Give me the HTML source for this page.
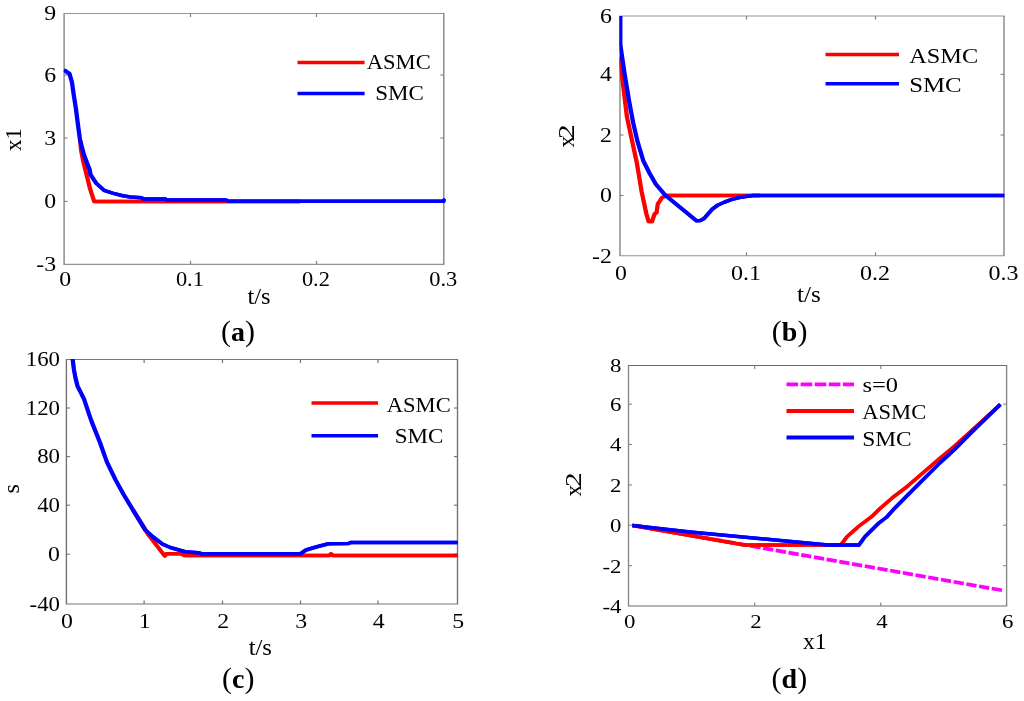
<!DOCTYPE html>
<html><head><meta charset="utf-8"><title>Figure</title>
<style>
html,body{margin:0;padding:0;background:#fff;}
svg{display:block;}
text{font-family:"Liberation Serif",serif;fill:#000;}
</style></head><body>
<svg width="1024" height="701" viewBox="0 0 1024 701">
<rect width="1024" height="701" fill="#fff"/>
<line x1="63.50" y1="13.50" x2="444.40" y2="13.50" stroke="#939393" stroke-width="1.1"/>
<line x1="63.50" y1="264.40" x2="444.40" y2="264.40" stroke="#939393" stroke-width="1.1"/>
<line x1="64.10" y1="13.50" x2="64.10" y2="264.40" stroke="#808080" stroke-width="1.35"/>
<line x1="443.80" y1="13.50" x2="443.80" y2="264.40" stroke="#808080" stroke-width="1.35"/>
<line x1="190.50" y1="264.40" x2="190.50" y2="260.90" stroke="#808080" stroke-width="1.2"/>
<line x1="190.50" y1="13.50" x2="190.50" y2="17.00" stroke="#808080" stroke-width="1.2"/>
<line x1="316.50" y1="264.40" x2="316.50" y2="260.90" stroke="#808080" stroke-width="1.2"/>
<line x1="316.50" y1="13.50" x2="316.50" y2="17.00" stroke="#808080" stroke-width="1.2"/>
<line x1="64.10" y1="75.00" x2="67.60" y2="75.00" stroke="#808080" stroke-width="1.1"/>
<line x1="443.80" y1="75.00" x2="440.30" y2="75.00" stroke="#808080" stroke-width="1.1"/>
<line x1="64.10" y1="138.00" x2="67.60" y2="138.00" stroke="#808080" stroke-width="1.1"/>
<line x1="443.80" y1="138.00" x2="440.30" y2="138.00" stroke="#808080" stroke-width="1.1"/>
<line x1="64.10" y1="201.40" x2="67.60" y2="201.40" stroke="#808080" stroke-width="1.1"/>
<line x1="443.80" y1="201.40" x2="440.30" y2="201.40" stroke="#808080" stroke-width="1.1"/>
<clipPath id="c1"><rect x="63.70" y="13.10" width="382.10" height="251.70"/></clipPath>
<g clip-path="url(#c1)">
<polyline points="79.90,140.00 80.60,150.00 83.20,162.80 86.40,175.60 89.60,188.50 93.80,201.50 299.60,201.50" fill="none" stroke="#ff0000" stroke-width="3.5" stroke-linejoin="round" />
<polyline points="80.70,140.00 81.40,150.00 84.00,162.80 87.20,175.60 90.40,188.50 94.60,201.50 300.40,201.50" fill="none" stroke="#ff0000" stroke-width="3.5" stroke-linejoin="round" />
<polyline points="63.70,70.00 69.10,73.75 71.60,82.50 73.35,95.00 75.35,107.50 77.60,125.00 79.60,140.00 83.60,155.00 89.35,170.00 90.20,174.70 95.85,183.30 103.60,190.30 113.00,193.40 122.40,195.80 130.20,196.90 141.20,197.80 143.10,198.90 164.60,198.90 166.60,200.00 225.60,200.00 227.90,201.30 443.10,201.30 444.60,198.80" fill="none" stroke="#0000ff" stroke-width="3.5" stroke-linejoin="round" />
<polyline points="64.50,70.00 69.90,73.75 72.40,82.50 74.15,95.00 76.15,107.50 78.40,125.00 80.40,140.00 84.40,155.00 90.15,170.00 91.00,174.70 96.65,183.30 104.40,190.30 113.80,193.40 123.20,195.80 131.00,196.90 142.00,197.80 143.90,198.90 165.40,198.90 167.40,200.00 226.40,200.00 228.70,201.30 443.90,201.30 445.40,198.80" fill="none" stroke="#0000ff" stroke-width="3.5" stroke-linejoin="round" />
</g>
<text transform="translate(56.20,20.10) scale(1.190,1)" font-size="20" text-anchor="end" >9</text>
<text transform="translate(56.20,81.60) scale(1.190,1)" font-size="20" text-anchor="end" >6</text>
<text transform="translate(56.20,144.60) scale(1.190,1)" font-size="20" text-anchor="end" >3</text>
<text transform="translate(56.20,208.00) scale(1.190,1)" font-size="20" text-anchor="end" >0</text>
<text transform="translate(56.20,271.00) scale(1.190,1)" font-size="20" text-anchor="end" >-3</text>
<text transform="translate(65.10,286.40) scale(1.190,1)" font-size="20" text-anchor="middle" >0</text>
<text transform="translate(189.90,286.40) scale(1.120,1)" font-size="20" text-anchor="middle" >0.1</text>
<text transform="translate(315.90,286.40) scale(1.120,1)" font-size="20" text-anchor="middle" >0.2</text>
<text transform="translate(443.20,286.40) scale(1.120,1)" font-size="20" text-anchor="middle" >0.3</text>
<text transform="translate(21.40,139.40) rotate(-90) scale(1.000,1)" font-size="23" text-anchor="middle" >x1</text>
<text transform="translate(259.00,304.00) scale(1.020,1)" font-size="24" text-anchor="middle" >t/s</text>
<text x="238.0" y="341.2" font-size="30" text-anchor="middle">(<tspan font-weight="bold" font-size="28">a</tspan>)</text>
<polyline points="297.50,62.50 364.60,62.50" fill="none" stroke="#ff0000" stroke-width="3.6" stroke-linejoin="round" />
<polyline points="297.50,93.50 364.60,93.50" fill="none" stroke="#0000ff" stroke-width="3.6" stroke-linejoin="round" />
<text transform="translate(366.70,69.20) scale(1.000,1)" font-size="21" text-anchor="start" textLength="64.0" lengthAdjust="spacingAndGlyphs" >ASMC</text>
<text transform="translate(375.30,100.10) scale(1.000,1)" font-size="21" text-anchor="start" textLength="48.6" lengthAdjust="spacingAndGlyphs" >SMC</text>
<line x1="619.40" y1="16.00" x2="1004.60" y2="16.00" stroke="#939393" stroke-width="1.1"/>
<line x1="619.40" y1="255.80" x2="1004.60" y2="255.80" stroke="#939393" stroke-width="1.1"/>
<line x1="620.00" y1="16.00" x2="620.00" y2="255.80" stroke="#808080" stroke-width="1.35"/>
<line x1="1004.00" y1="16.00" x2="1004.00" y2="255.80" stroke="#808080" stroke-width="1.35"/>
<line x1="746.50" y1="255.80" x2="746.50" y2="252.30" stroke="#808080" stroke-width="1.2"/>
<line x1="746.50" y1="16.00" x2="746.50" y2="19.50" stroke="#808080" stroke-width="1.2"/>
<line x1="875.50" y1="255.80" x2="875.50" y2="252.30" stroke="#808080" stroke-width="1.2"/>
<line x1="875.50" y1="16.00" x2="875.50" y2="19.50" stroke="#808080" stroke-width="1.2"/>
<line x1="620.00" y1="74.30" x2="623.50" y2="74.30" stroke="#808080" stroke-width="1.1"/>
<line x1="1004.00" y1="74.30" x2="1000.50" y2="74.30" stroke="#808080" stroke-width="1.1"/>
<line x1="620.00" y1="135.00" x2="623.50" y2="135.00" stroke="#808080" stroke-width="1.1"/>
<line x1="1004.00" y1="135.00" x2="1000.50" y2="135.00" stroke="#808080" stroke-width="1.1"/>
<line x1="620.00" y1="195.50" x2="623.50" y2="195.50" stroke="#808080" stroke-width="1.1"/>
<line x1="1004.00" y1="195.50" x2="1000.50" y2="195.50" stroke="#808080" stroke-width="1.1"/>
<clipPath id="c2"><rect x="619.60" y="15.60" width="386.40" height="240.60"/></clipPath>
<g clip-path="url(#c2)">
<polyline points="619.30,57.00 622.40,82.20 626.50,116.70 631.90,141.80 636.60,163.70 641.30,192.00 646.00,213.90 648.20,221.60 651.60,221.60 654.20,214.00 656.20,212.50 657.40,204.00 661.60,197.60 666.40,195.40 759.60,195.40" fill="none" stroke="#ff0000" stroke-width="3.5" stroke-linejoin="round" />
<polyline points="620.10,57.00 623.20,82.20 627.30,116.70 632.70,141.80 637.40,163.70 642.10,192.00 646.80,213.90 649.00,221.60 652.40,221.60 655.00,214.00 657.00,212.50 658.20,204.00 662.40,197.60 667.20,195.40 760.40,195.40" fill="none" stroke="#ff0000" stroke-width="3.5" stroke-linejoin="round" />
<polyline points="619.90,16.00 619.90,44.50 624.00,72.70 628.70,101.00 632.80,122.90 637.20,141.80 642.80,160.60 649.10,173.10 655.40,184.10 664.80,195.10 696.20,220.80 700.10,220.60 704.00,218.20 707.90,213.70 711.90,209.20 717.60,205.00 724.40,202.00 731.60,199.40 740.10,197.30 752.60,195.60 761.60,195.40 1003.60,195.40" fill="none" stroke="#0000ff" stroke-width="3.5" stroke-linejoin="round" />
<polyline points="620.70,16.00 620.70,44.50 624.80,72.70 629.50,101.00 633.60,122.90 638.00,141.80 643.60,160.60 649.90,173.10 656.20,184.10 665.60,195.10 697.00,220.80 700.90,220.60 704.80,218.20 708.70,213.70 712.70,209.20 718.40,205.00 725.20,202.00 732.40,199.40 740.90,197.30 753.40,195.60 762.40,195.40 1004.40,195.40" fill="none" stroke="#0000ff" stroke-width="3.5" stroke-linejoin="round" />
</g>
<text transform="translate(611.80,22.80) scale(1.190,1)" font-size="20" text-anchor="end" >6</text>
<text transform="translate(611.80,81.10) scale(1.190,1)" font-size="20" text-anchor="end" >4</text>
<text transform="translate(611.80,141.80) scale(1.190,1)" font-size="20" text-anchor="end" >2</text>
<text transform="translate(611.80,202.30) scale(1.190,1)" font-size="20" text-anchor="end" >0</text>
<text transform="translate(611.80,262.60) scale(1.190,1)" font-size="20" text-anchor="end" >-2</text>
<text transform="translate(621.00,279.60) scale(1.190,1)" font-size="20" text-anchor="middle" >0</text>
<text transform="translate(746.00,279.60) scale(1.200,1)" font-size="20" text-anchor="middle" >0.1</text>
<text transform="translate(875.00,279.60) scale(1.200,1)" font-size="20" text-anchor="middle" >0.2</text>
<text transform="translate(1003.50,279.60) scale(1.200,1)" font-size="20" text-anchor="middle" >0.3</text>
<text transform="translate(573.50,147.47) rotate(-90)" font-size="23.5" text-anchor="start">x<tspan dx="-3.28" font-size="23" textLength="14.61" lengthAdjust="spacingAndGlyphs">2</tspan></text>
<text transform="translate(808.90,302.20) scale(1.050,1)" font-size="24" text-anchor="middle" >t/s</text>
<text x="789.6" y="341.2" font-size="30" text-anchor="middle">(<tspan font-weight="bold" font-size="28">b</tspan>)</text>
<polyline points="825.50,54.50 899.00,54.50" fill="none" stroke="#ff0000" stroke-width="3.6" stroke-linejoin="round" />
<polyline points="825.50,83.75 899.00,83.75" fill="none" stroke="#0000ff" stroke-width="3.6" stroke-linejoin="round" />
<text transform="translate(909.20,62.90) scale(1.000,1)" font-size="21" text-anchor="start" textLength="69.0" lengthAdjust="spacingAndGlyphs" >ASMC</text>
<text transform="translate(909.20,91.90) scale(1.000,1)" font-size="21" text-anchor="start" textLength="52.5" lengthAdjust="spacingAndGlyphs" >SMC</text>
<line x1="65.80" y1="359.50" x2="458.10" y2="359.50" stroke="#777" stroke-width="1.1"/>
<line x1="65.80" y1="604.00" x2="458.10" y2="604.00" stroke="#777" stroke-width="1.1"/>
<line x1="66.40" y1="359.50" x2="66.40" y2="604.00" stroke="#707070" stroke-width="1.35"/>
<line x1="457.50" y1="359.50" x2="457.50" y2="604.00" stroke="#707070" stroke-width="1.35"/>
<line x1="144.10" y1="604.00" x2="144.10" y2="600.50" stroke="#707070" stroke-width="1.2"/>
<line x1="144.10" y1="359.50" x2="144.10" y2="363.00" stroke="#707070" stroke-width="1.2"/>
<line x1="222.50" y1="604.00" x2="222.50" y2="600.50" stroke="#707070" stroke-width="1.2"/>
<line x1="222.50" y1="359.50" x2="222.50" y2="363.00" stroke="#707070" stroke-width="1.2"/>
<line x1="300.50" y1="604.00" x2="300.50" y2="600.50" stroke="#707070" stroke-width="1.2"/>
<line x1="300.50" y1="359.50" x2="300.50" y2="363.00" stroke="#707070" stroke-width="1.2"/>
<line x1="378.00" y1="604.00" x2="378.00" y2="600.50" stroke="#707070" stroke-width="1.2"/>
<line x1="378.00" y1="359.50" x2="378.00" y2="363.00" stroke="#707070" stroke-width="1.2"/>
<line x1="66.40" y1="408.00" x2="69.90" y2="408.00" stroke="#707070" stroke-width="1.1"/>
<line x1="457.50" y1="408.00" x2="454.00" y2="408.00" stroke="#707070" stroke-width="1.1"/>
<line x1="66.40" y1="456.60" x2="69.90" y2="456.60" stroke="#707070" stroke-width="1.1"/>
<line x1="457.50" y1="456.60" x2="454.00" y2="456.60" stroke="#707070" stroke-width="1.1"/>
<line x1="66.40" y1="505.20" x2="69.90" y2="505.20" stroke="#707070" stroke-width="1.1"/>
<line x1="457.50" y1="505.20" x2="454.00" y2="505.20" stroke="#707070" stroke-width="1.1"/>
<line x1="66.40" y1="554.20" x2="69.90" y2="554.20" stroke="#707070" stroke-width="1.1"/>
<line x1="457.50" y1="554.20" x2="454.00" y2="554.20" stroke="#707070" stroke-width="1.1"/>
<clipPath id="c3"><rect x="66.00" y="359.10" width="393.50" height="245.30"/></clipPath>
<g clip-path="url(#c3)">
<polyline points="132.40,509.70 140.20,522.20 148.00,534.70 164.40,556.00 166.00,553.70 180.85,553.70 184.00,555.40 329.10,555.40 330.60,553.80 332.10,555.40 457.10,555.40" fill="none" stroke="#ff0000" stroke-width="3.5" stroke-linejoin="round" />
<polyline points="133.20,509.70 141.00,522.20 148.80,534.70 165.20,556.00 166.80,553.70 181.65,553.70 184.80,555.40 329.90,555.40 331.40,553.80 332.90,555.40 457.90,555.40" fill="none" stroke="#ff0000" stroke-width="3.5" stroke-linejoin="round" />
<polyline points="72.20,359.00 73.60,370.00 75.10,378.00 77.10,386.00 80.60,393.00 83.60,399.00 86.10,406.50 88.60,414.00 91.20,421.50 99.50,442.40 106.50,462.00 115.20,480.00 123.00,494.10 132.40,509.70 140.20,522.20 144.90,530.00 152.70,537.00 162.10,544.10 169.90,547.50 177.70,549.70 184.80,551.70 198.00,552.80 201.20,553.75 300.10,553.75 305.60,550.00 315.60,547.00 328.10,543.75 348.10,543.50 350.60,542.40 457.10,542.40" fill="none" stroke="#0000ff" stroke-width="3.5" stroke-linejoin="round" />
<polyline points="73.00,359.00 74.40,370.00 75.90,378.00 77.90,386.00 81.40,393.00 84.40,399.00 86.90,406.50 89.40,414.00 92.00,421.50 100.30,442.40 107.30,462.00 116.00,480.00 123.80,494.10 133.20,509.70 141.00,522.20 145.70,530.00 153.50,537.00 162.90,544.10 170.70,547.50 178.50,549.70 185.60,551.70 198.80,552.80 202.00,553.75 300.90,553.75 306.40,550.00 316.40,547.00 328.90,543.75 348.90,543.50 351.40,542.40 457.90,542.40" fill="none" stroke="#0000ff" stroke-width="3.5" stroke-linejoin="round" />
</g>
<text transform="translate(60.00,366.30) scale(1.140,1)" font-size="20" text-anchor="end" >160</text>
<text transform="translate(60.00,414.80) scale(1.140,1)" font-size="20" text-anchor="end" >120</text>
<text transform="translate(60.00,463.40) scale(1.140,1)" font-size="20" text-anchor="end" >80</text>
<text transform="translate(60.00,512.00) scale(1.140,1)" font-size="20" text-anchor="end" >40</text>
<text transform="translate(60.00,561.00) scale(1.190,1)" font-size="20" text-anchor="end" >0</text>
<text transform="translate(60.00,610.80) scale(1.140,1)" font-size="20" text-anchor="end" >-40</text>
<text transform="translate(67.00,628.00) scale(1.190,1)" font-size="20" text-anchor="middle" >0</text>
<text transform="translate(144.70,628.00) scale(1.190,1)" font-size="20" text-anchor="middle" >1</text>
<text transform="translate(223.10,628.00) scale(1.190,1)" font-size="20" text-anchor="middle" >2</text>
<text transform="translate(301.10,628.00) scale(1.190,1)" font-size="20" text-anchor="middle" >3</text>
<text transform="translate(378.60,628.00) scale(1.190,1)" font-size="20" text-anchor="middle" >4</text>
<text transform="translate(458.10,628.00) scale(1.190,1)" font-size="20" text-anchor="middle" >5</text>
<text transform="translate(19.00,488.80) rotate(-90) scale(1.000,1)" font-size="24" text-anchor="middle" >s</text>
<text transform="translate(260.30,655.30) scale(1.030,1)" font-size="24" text-anchor="middle" >t/s</text>
<text x="238.2" y="687.8" font-size="30" text-anchor="middle">(<tspan font-weight="bold" font-size="28">c</tspan>)</text>
<polyline points="311.50,403.00 378.00,403.00" fill="none" stroke="#ff0000" stroke-width="3.6" stroke-linejoin="round" />
<polyline points="311.50,435.75 378.00,435.75" fill="none" stroke="#0000ff" stroke-width="3.6" stroke-linejoin="round" />
<text transform="translate(386.70,412.00) scale(1.000,1)" font-size="21" text-anchor="start" textLength="64.0" lengthAdjust="spacingAndGlyphs" >ASMC</text>
<text transform="translate(394.70,443.00) scale(1.000,1)" font-size="21" text-anchor="start" textLength="48.6" lengthAdjust="spacingAndGlyphs" >SMC</text>
<line x1="627.90" y1="365.50" x2="1007.20" y2="365.50" stroke="#6a6a6a" stroke-width="1.1"/>
<line x1="627.90" y1="606.00" x2="1007.20" y2="606.00" stroke="#6a6a6a" stroke-width="1.1"/>
<line x1="628.50" y1="365.50" x2="628.50" y2="606.00" stroke="#858585" stroke-width="1.35"/>
<line x1="1006.60" y1="365.50" x2="1006.60" y2="606.00" stroke="#858585" stroke-width="1.35"/>
<line x1="754.70" y1="606.00" x2="754.70" y2="602.50" stroke="#858585" stroke-width="1.2"/>
<line x1="754.70" y1="365.50" x2="754.70" y2="369.00" stroke="#858585" stroke-width="1.2"/>
<line x1="880.80" y1="606.00" x2="880.80" y2="602.50" stroke="#858585" stroke-width="1.2"/>
<line x1="880.80" y1="365.50" x2="880.80" y2="369.00" stroke="#858585" stroke-width="1.2"/>
<line x1="628.50" y1="404.20" x2="632.00" y2="404.20" stroke="#858585" stroke-width="1.1"/>
<line x1="1006.60" y1="404.20" x2="1003.10" y2="404.20" stroke="#858585" stroke-width="1.1"/>
<line x1="628.50" y1="444.50" x2="632.00" y2="444.50" stroke="#858585" stroke-width="1.1"/>
<line x1="1006.60" y1="444.50" x2="1003.10" y2="444.50" stroke="#858585" stroke-width="1.1"/>
<line x1="628.50" y1="485.00" x2="632.00" y2="485.00" stroke="#858585" stroke-width="1.1"/>
<line x1="1006.60" y1="485.00" x2="1003.10" y2="485.00" stroke="#858585" stroke-width="1.1"/>
<line x1="628.50" y1="525.20" x2="632.00" y2="525.20" stroke="#858585" stroke-width="1.1"/>
<line x1="1006.60" y1="525.20" x2="1003.10" y2="525.20" stroke="#858585" stroke-width="1.1"/>
<line x1="628.50" y1="565.70" x2="632.00" y2="565.70" stroke="#858585" stroke-width="1.1"/>
<line x1="1006.60" y1="565.70" x2="1003.10" y2="565.70" stroke="#858585" stroke-width="1.1"/>
<clipPath id="c4"><rect x="628.10" y="365.10" width="380.50" height="241.30"/></clipPath>
<g clip-path="url(#c4)">
<polyline points="1001.90,590.30 632.50,525.00" fill="none" stroke="#ff00ff" stroke-width="3.7" stroke-linejoin="round" stroke-dasharray="10.3 2.6"/>
<polyline points="632.20,525.50 744.20,545.00 840.50,545.00 846.70,536.80 858.20,526.50 871.00,516.90 880.00,508.30 891.60,498.20 907.70,485.80 928.90,467.50 939.60,458.20 953.20,447.00 969.60,432.20 1000.00,404.60" fill="none" stroke="#ff0000" stroke-width="3.4" stroke-linejoin="round" />
<polyline points="632.80,525.50 744.80,545.00 841.10,545.00 847.30,536.80 858.80,526.50 871.60,516.90 880.60,508.30 892.20,498.20 908.30,485.80 929.50,467.50 940.20,458.20 953.80,447.00 970.20,432.20 1000.60,404.60" fill="none" stroke="#ff0000" stroke-width="3.4" stroke-linejoin="round" />
<polyline points="632.20,525.50 689.70,532.00 827.70,545.00 858.70,545.00 864.60,536.80 878.80,522.80 886.50,517.00 892.90,509.80 907.70,494.80 939.60,462.90 953.20,450.50 969.60,434.00 985.50,418.50 1000.00,404.60" fill="none" stroke="#0000ff" stroke-width="3.4" stroke-linejoin="round" />
<polyline points="632.80,525.50 690.30,532.00 828.30,545.00 859.30,545.00 865.20,536.80 879.40,522.80 887.10,517.00 893.50,509.80 908.30,494.80 940.20,462.90 953.80,450.50 970.20,434.00 986.10,418.50 1000.60,404.60" fill="none" stroke="#0000ff" stroke-width="3.4" stroke-linejoin="round" />
</g>
<text transform="translate(621.40,372.30) scale(1.170,1)" font-size="19.5" text-anchor="end" >8</text>
<text transform="translate(621.40,411.00) scale(1.170,1)" font-size="19.5" text-anchor="end" >6</text>
<text transform="translate(621.40,451.30) scale(1.170,1)" font-size="19.5" text-anchor="end" >4</text>
<text transform="translate(621.40,491.80) scale(1.170,1)" font-size="19.5" text-anchor="end" >2</text>
<text transform="translate(621.40,532.00) scale(1.170,1)" font-size="19.5" text-anchor="end" >0</text>
<text transform="translate(621.40,572.50) scale(1.170,1)" font-size="19.5" text-anchor="end" >-2</text>
<text transform="translate(621.40,612.80) scale(1.170,1)" font-size="19.5" text-anchor="end" >-4</text>
<text transform="translate(629.70,627.80) scale(1.170,1)" font-size="19.5" text-anchor="middle" >0</text>
<text transform="translate(755.90,627.80) scale(1.170,1)" font-size="19.5" text-anchor="middle" >2</text>
<text transform="translate(882.00,627.80) scale(1.170,1)" font-size="19.5" text-anchor="middle" >4</text>
<text transform="translate(1007.80,627.80) scale(1.170,1)" font-size="19.5" text-anchor="middle" >6</text>
<text transform="translate(580.70,496.48) rotate(-90)" font-size="23.5" text-anchor="start">x<tspan dx="-2.38" font-size="23" textLength="14.61" lengthAdjust="spacingAndGlyphs">2</tspan></text>
<text transform="translate(814.80,649.00) scale(1.020,1)" font-size="23" text-anchor="middle" >x1</text>
<text x="789.4" y="687.6" font-size="30" text-anchor="middle">(<tspan font-weight="bold" font-size="28">d</tspan>)</text>
<polyline points="786.50,384.40 854.00,384.40" fill="none" stroke="#ff00ff" stroke-width="3.6" stroke-linejoin="round" stroke-dasharray="11.6 2.5"/>
<polyline points="786.50,411.00 854.00,411.00" fill="none" stroke="#ff0000" stroke-width="3.8" stroke-linejoin="round" />
<polyline points="786.50,437.50 854.00,437.50" fill="none" stroke="#0000ff" stroke-width="3.8" stroke-linejoin="round" />
<text transform="translate(862.50,392.00) scale(1.000,1)" font-size="20" text-anchor="start" textLength="35.5" lengthAdjust="spacingAndGlyphs" >s=0</text>
<text transform="translate(862.20,419.00) scale(1.000,1)" font-size="20.4" text-anchor="start" textLength="64.0" lengthAdjust="spacingAndGlyphs" >ASMC</text>
<text transform="translate(862.20,446.00) scale(1.000,1)" font-size="20.4" text-anchor="start" textLength="49.5" lengthAdjust="spacingAndGlyphs" >SMC</text>
</svg>
</body></html>
